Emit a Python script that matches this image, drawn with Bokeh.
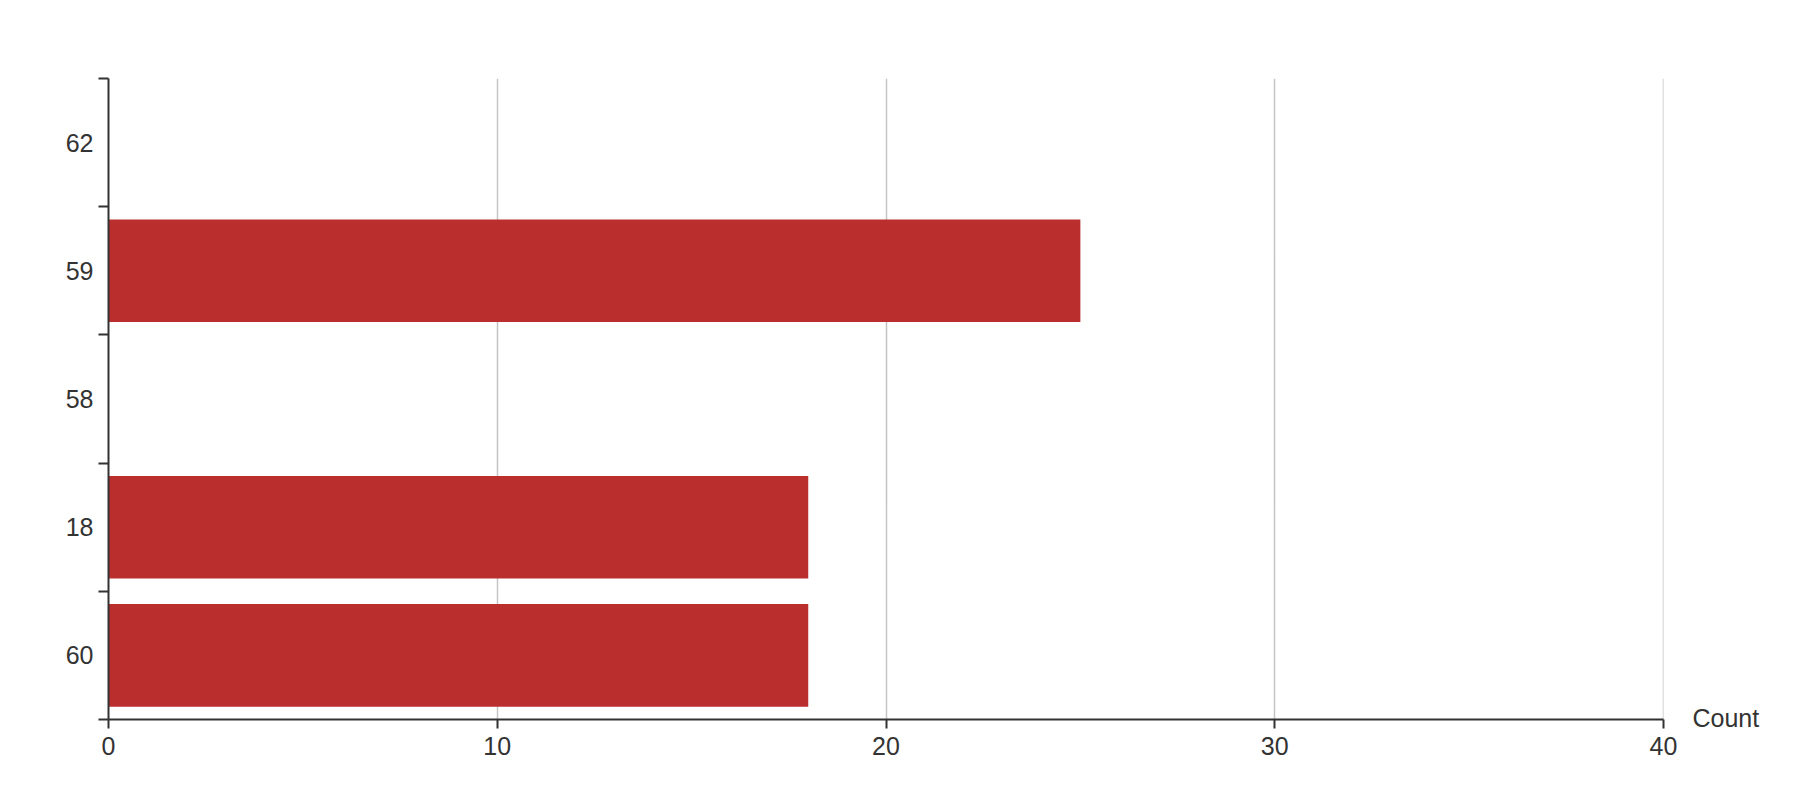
from bokeh.plotting import figure
from bokeh.models import (FactorRange, Range1d, LinearAxis, CategoricalAxis,
                          FixedTicker, CategoricalTicker, Span,
                          PrintfTickFormatter, CustomLabelingPolicy)
from bokeh.embed import file_html
from bokeh.resources import INLINE

# data (top to bottom as shown)
categories = ["62", "59", "58", "18", "60"]
counts = [0, 25, 0, 18, 18]
x_ticks = [0, 10, 20, 30, 40]
x_label = "Count"

FONT = "Liberation Sans"
FS = "25px"
TXT = "#333333"
BAR = "#bb2e2e"
GRID = "#c4c4c4"

factors = list(reversed(categories))
p = figure(width=1794, height=788, output_backend="svg", toolbar_location=None,
           x_range=Range1d(0, 40), y_range=FactorRange(factors=factors),
           y_axis_location=None, x_axis_location=None,
           min_border_left=108, min_border_right=131,
           min_border_top=78, min_border_bottom=69)
p.outline_line_color = None
p.background_fill_color = "white"
p.border_fill_color = "white"

p.hbar(y=categories, right=counts, left=0, height=0.8,
       fill_color=BAR, line_color=None)

# x axis
xa = LinearAxis(ticker=FixedTicker(ticks=x_ticks))
xa.axis_line_color = TXT
xa.axis_line_width = 2
xa.major_tick_line_color = TXT
xa.major_tick_line_width = 2
xa.major_tick_in = 0
xa.major_tick_out = 9
xa.minor_tick_line_color = None
xa.major_label_standoff = 8
xa.major_label_text_font = FONT
xa.major_label_text_font_size = FS
xa.major_label_text_color = TXT
p.add_layout(xa, "below")

# y axis: ticks on the band boundaries, no labels
hide_all = CustomLabelingPolicy(code="for (const i of indices) indices.unset(i); return indices")
ya = LinearAxis(ticker=FixedTicker(ticks=list(range(len(categories) + 1))),
                major_label_policy=hide_all)
ya.axis_line_color = TXT
ya.axis_line_width = 2
ya.major_tick_line_color = TXT
ya.major_tick_line_width = 2
ya.major_tick_in = 0
ya.major_tick_out = 10
ya.minor_tick_line_color = None
ya.major_label_standoff = 0
p.add_layout(ya, "left")

# y axis: category labels
yc = CategoricalAxis(ticker=CategoricalTicker())
yc.axis_line_color = None
yc.major_tick_line_color = None
yc.major_tick_in = 0
yc.major_tick_out = 0
yc.major_label_standoff = -4
yc.major_label_text_font = FONT
yc.major_label_text_font_size = FS
yc.major_label_text_color = TXT
p.add_layout(yc, "left")

# "Count" at the right end of the x axis
ca = LinearAxis(ticker=FixedTicker(ticks=[0.015]),
                formatter=PrintfTickFormatter(format=x_label))
ca.axis_line_color = None
ca.major_tick_line_color = None
ca.major_tick_in = 0
ca.major_tick_out = 0
ca.minor_tick_line_color = None
ca.major_label_standoff = 29
ca.major_label_text_font = FONT
ca.major_label_text_font_size = FS
ca.major_label_text_color = TXT
p.add_layout(ca, "right")

p.xgrid.ticker = FixedTicker(ticks=x_ticks)
p.xgrid.grid_line_color = GRID
p.xgrid.grid_line_width = 1.5
p.ygrid.grid_line_color = None
p.add_layout(Span(location=x_ticks[-1], dimension="height", line_color=GRID,
                  line_width=1.5, level="underlay"))

open("out.html", "w").write(file_html(p, INLINE))
